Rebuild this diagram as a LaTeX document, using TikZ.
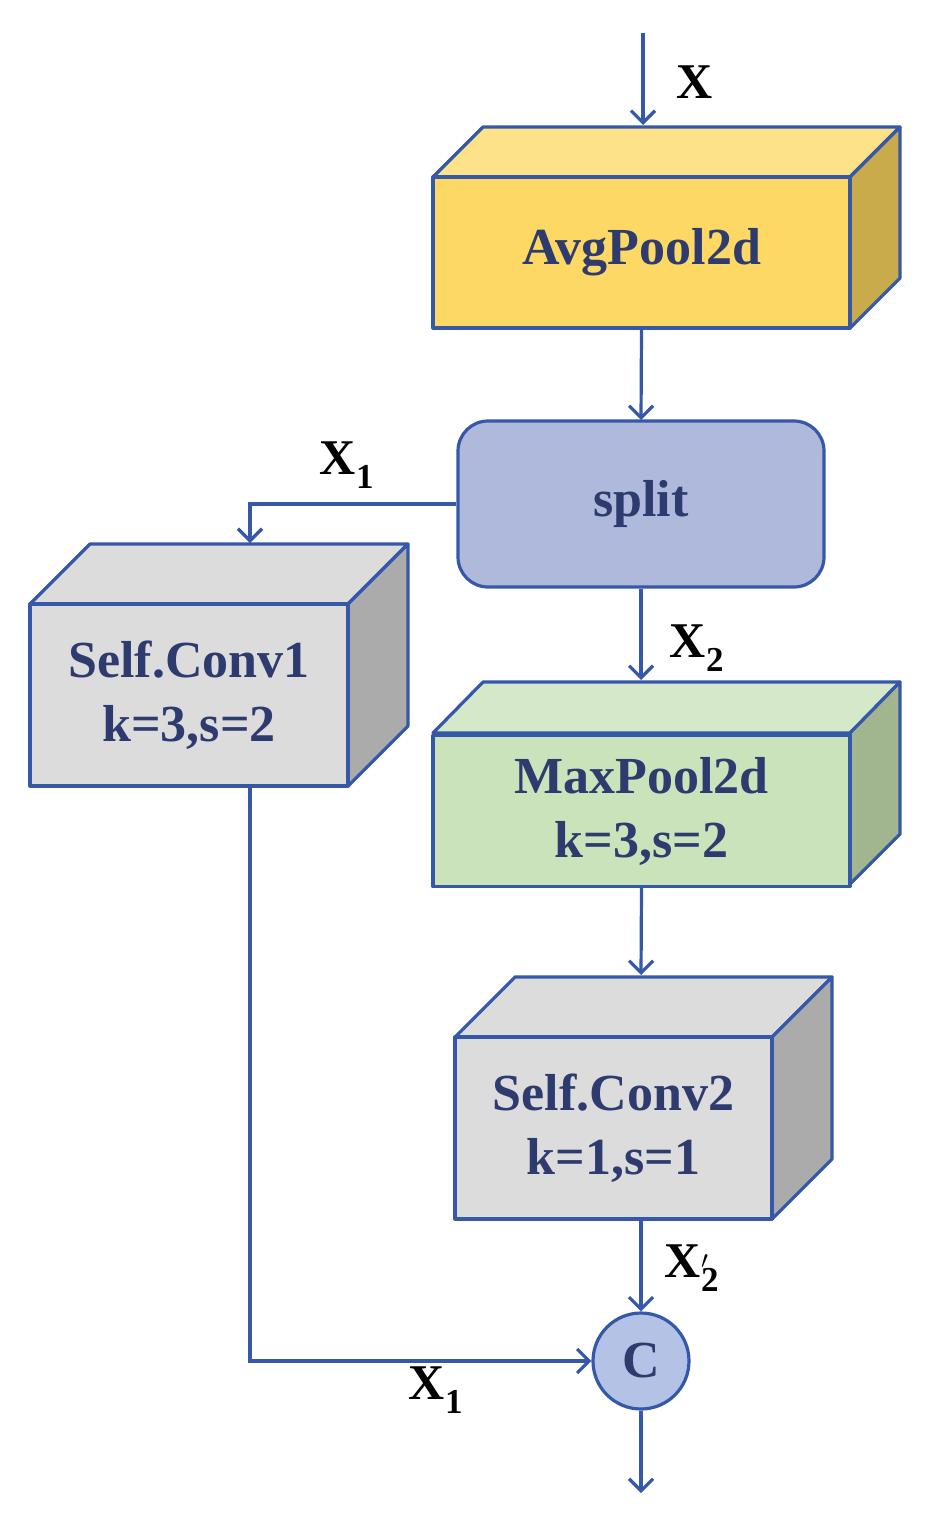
\documentclass[tikz,border=0pt]{standalone}
\usepackage{fontspec}
\setmainfont{Liberation Serif}
\usetikzlibrary{arrows.meta}
\definecolor{ln}{HTML}{3558A8}
\definecolor{tx}{HTML}{2E3B6E}
\definecolor{avgF}{HTML}{FDD865}\definecolor{avgT}{HTML}{FEE289}\definecolor{avgS}{HTML}{C9AB4C}
\definecolor{gF}{HTML}{DCDCDC}\definecolor{gS}{HTML}{ABABAB}
\definecolor{mF}{HTML}{CAE3BA}\definecolor{mT}{HTML}{D5E8C9}\definecolor{mS}{HTML}{A1B68F}
\definecolor{spF}{HTML}{AEB9DC}\definecolor{cF}{HTML}{B4C2E6}
\tikzset{
  bx/.style={draw=ln,line width=3.2pt,line join=round},
  arr/.style={draw=ln,line width=3.2pt,-{Straight Barb[length=12pt,width=24pt,line width=3.2pt]}},
  btxt/.style={text=tx,font=\fontsize{52}{64}\selectfont\bfseries,align=center},
  lab/.style={font=\fontsize{50}{56}\selectfont\bfseries}
}
\begin{document}
\begin{tikzpicture}[x=1pt,y=-1pt]
\useasboundingbox (0,0) rectangle (935,1533);
% AvgPool
\fill[avgT,bx] (433,177)--(483,127)--(900,127)--(850,177)--cycle;
\fill[avgS,bx] (850,177)--(900,127)--(900,278)--(850,328)--cycle;
\node[bx,fill=avgF,minimum width=417pt,minimum height=151pt,inner sep=0,btxt] (avg) at (641.5,252.5) {AvgPool2d};
% Conv1
\fill[gF,bx] (30,604)--(90,544)--(408,544)--(348,604)--cycle;
\fill[gS,bx] (348,604)--(408,544)--(408,726)--(348,786)--cycle;
\node[bx,fill=gF,minimum width=318pt,minimum height=182pt,inner sep=0,btxt] (c1) at (189,695) {Self.Conv1\\k=3,s=2};
% MaxPool
\fill[mT,bx] (433,733)--(483,682)--(900,682)--(850,733)--cycle;
\fill[mS,bx] (850,733)--(900,682)--(900,834)--(850,884)--cycle;
\node[bx,fill=mF,minimum width=417pt,minimum height=151pt,inner sep=0,btxt] (mp) at (641.5,811) {MaxPool2d\\k=3,s=2};
% Conv2
\fill[gF,bx] (455,1037)--(515,977)--(832,977)--(772,1037)--cycle;
\fill[gS,bx] (772,1037)--(832,977)--(832,1159)--(772,1219)--cycle;
\node[bx,fill=gF,minimum width=317pt,minimum height=182pt,inner sep=0,btxt] (c2) at (613.5,1128) {Self.Conv2\\k=1,s=1};
% split
\node[bx,fill=spF,rounded corners=30pt,minimum width=366pt,minimum height=166pt,inner sep=0,btxt] (sp) at (641,504) {split};
% C
\node[bx,fill=cF,circle,minimum size=96pt,inner sep=0,btxt] (cc) at (641,1361) {C};
\coordinate (in) at (643,33);
\coordinate (out) at (641,1493);
\draw[arr] (in) -- (643,125);
\draw[arr] (avg.south) -- (641,420);
\draw[arr] (sp.west) -- (250,504) -- (250,543);
\draw[arr] (sp.south) -- (641,680);
\draw[arr] (mp.south) -- (641,975);
\draw[arr] (641,1219) -- (cc.north);
\draw[arr] (250,786) -- (250,1361) -- (cc.west);
\draw[arr] (cc.south) -- (out);
\node[lab] at (695,82) {X};
\node[lab] at (347,465) {X$_{\mathbf 1}$};
\node[lab] at (697,648) {X$_{\mathbf 2}$};
\node[lab] at (692,1268) {X\rlap{$^{\prime}$}$_{\mathbf 2}$};
\node[lab] at (436,1390) {X$_{\mathbf 1}$};
\end{tikzpicture}
\end{document}
